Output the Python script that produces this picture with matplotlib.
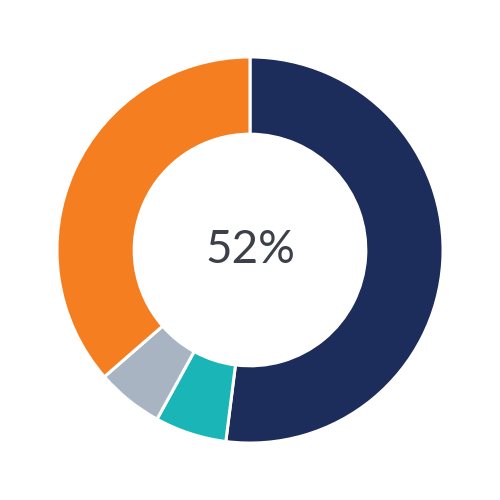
import matplotlib
matplotlib.use("Agg")
import matplotlib.pyplot as plt

labels = ["A", "B", "C", "D"]
values = [52, 6, 5.6, 36.4]
colors = ["#1c2c5b", "#1ab5b7", "#a9b4c3", "#f47e20"]
center_label = "52%"

fig = plt.figure(figsize=(5, 5), dpi=100)
ax = fig.add_axes([0, 0, 1, 1])
ax.pie(values, colors=colors, startangle=90, counterclock=False,
       radius=1.0, wedgeprops=dict(width=0.40, edgecolor="white", linewidth=2.2))
ax.set_xlim(-1.295, 1.295)
ax.set_ylim(-1.295, 1.295)
ax.set_aspect("equal")
ax.axis("off")
ax.text(0, 0.0, center_label, ha="center", va="center", fontsize=33,
        color="#3b4049", family=["Lato", "DejaVu Sans"], fontweight="normal")
fig.savefig("out.png", dpi=100, facecolor="white")
